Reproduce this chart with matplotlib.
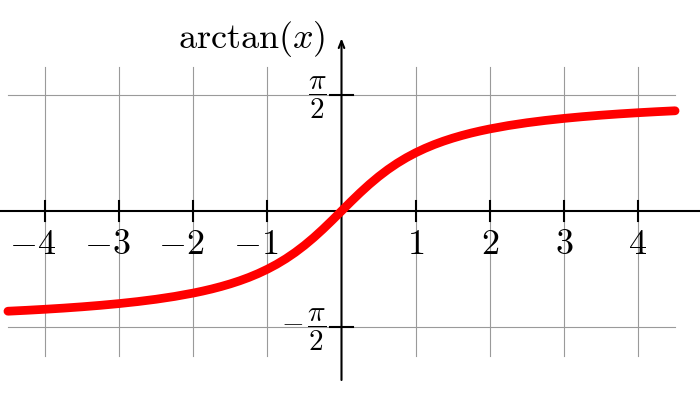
import numpy as np
import matplotlib
matplotlib.use("Agg")
import matplotlib.pyplot as plt

plt.rcParams['mathtext.fontset'] = 'cm'
plt.rcParams['font.family'] = 'DejaVu Serif'

# arctan curve, values
xs = [-4.5, -4.25, -4.0, -3.75, -3.5, -3.25, -3.0, -2.75, -2.5, -2.25, -2.0,
      -1.875, -1.75, -1.625, -1.5, -1.375, -1.25, -1.125, -1.0, -0.875,
      -0.75, -0.625, -0.5, -0.375, -0.25, -0.125, 0.0,
      0.125, 0.25, 0.375, 0.5, 0.625, 0.75, 0.875, 1.0, 1.125, 1.25, 1.375,
      1.5, 1.625, 1.75, 1.875, 2.0, 2.25, 2.5, 2.75, 3.0,
      3.25, 3.5, 3.75, 4.0, 4.25, 4.5]
ys = [-1.3521, -1.3397, -1.3258, -1.3102, -1.2925, -1.2723, -1.2490, -1.2220,
      -1.1903, -1.1526, -1.1071,
      -1.0808, -1.0517, -1.0191, -0.9828, -0.9420, -0.8961, -0.8442, -0.7854,
      -0.7188, -0.6435, -0.5586, -0.4636, -0.3588, -0.2450, -0.1244, 0.0,
      0.1244, 0.2450, 0.3588, 0.4636, 0.5586, 0.6435, 0.7188, 0.7854, 0.8442,
      0.8961, 0.9420, 0.9828, 1.0191, 1.0517, 1.0808, 1.1071, 1.1526,
      1.1903, 1.2220, 1.2490, 1.2723, 1.2925, 1.3102, 1.3258, 1.3397, 1.3521]

x_ticks = [-4, -3, -2, -1, 1, 2, 3, 4]
x_labels = ['$-4$', '$-3$', '$-2$', '$-1$', '$1$', '$2$', '$3$', '$4$']
y_ticks = [np.pi / 2, -np.pi / 2]
y_labels = [r'$\dfrac{\pi}{2}$', r'$-\,\dfrac{\pi}{2}$']
title = r'$\arctan(x)$'

fig = plt.figure(figsize=(7, 4), dpi=100)
ax = fig.add_axes([0, 0, 1, 1])
sc = 74.125
ax.set_xlim(-341.5 / sc, (700 - 341.5) / sc)
ax.set_ylim(-(400 - 211) / sc, 211 / sc)
ax.axis('off')

gcol = '#9a9a9a'
for t in [-4, -3, -2, -1, 1, 2, 3, 4]:
    ax.plot([t, t], [-1.95, 1.94], color=gcol, lw=0.8, zorder=1)
for t in y_ticks:
    ax.plot([-4.5, 4.5], [t, t], color=gcol, lw=0.8, zorder=1)

# axes
ax.plot([-5, 5], [0, 0], color='black', lw=1.5, zorder=2)
ax.annotate('', xy=(0, 2.33), xytext=(0, -2.28),
            arrowprops=dict(arrowstyle='->,head_length=0.5,head_width=0.2',
                            color='black', lw=1.5, shrinkA=0, shrinkB=0), zorder=2)

for t, lab in zip(x_ticks, x_labels):
    ax.plot([t, t], [-0.13, 0.13], color='black', lw=1.5, zorder=2)
    if t < 0:
        ax.text(t + 0.15, -0.45, lab, ha='right', va='center', fontsize=26)
    else:
        ax.text(t, -0.45, lab, ha='center', va='center', fontsize=26)
for t, lab in zip(y_ticks, y_labels):
    ax.plot([-0.15, 0.15], [t, t], color='black', lw=1.5, zorder=2)
    ax.text(-0.2, t - 0.04, lab, ha='right', va='center', fontsize=21)

ax.text(-1.21, 2.2, title, ha='center', va='baseline', fontsize=26)

ax.plot(xs, ys, color='#ff0000', lw=6.3, solid_capstyle='round',
        solid_joinstyle='round', zorder=3)

fig.savefig('out.png', dpi=100)
